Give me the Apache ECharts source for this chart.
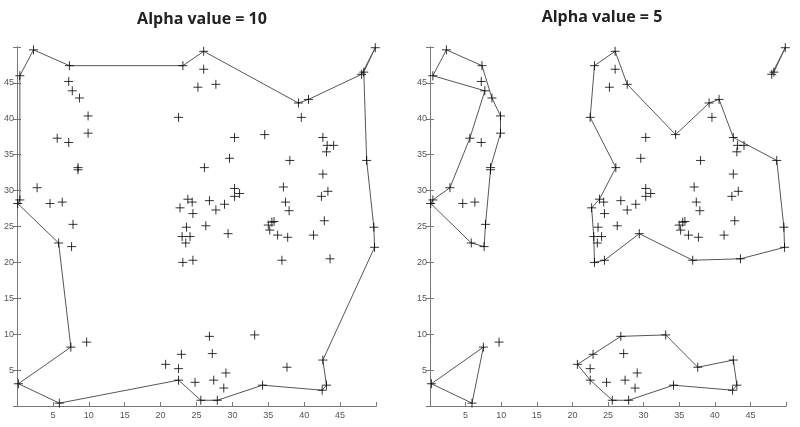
<!DOCTYPE html>
<html><head><meta charset="utf-8">
<script src="https://cdn.jsdelivr.net/npm/echarts@6/dist/echarts.min.js"></script>
<style>html,body{margin:0;padding:0;background:#fff}#c{width:800px;height:427px}</style>
</head><body><div id="c"></div>
<script>
const titles = ['Alpha value = 10', 'Alpha value = 5'];
const points = [
[2.3,49.6],[0.4,46.0],[7.3,47.4],[23.1,47.4],[7.2,45.2],[7.7,43.9],[8.7,42.9],[9.9,40.4],[9.9,38.0],
[5.6,37.3],[7.2,36.7],[8.5,33.2],[8.5,32.9],[2.8,30.4],[4.6,28.2],[6.3,28.4],[0.4,28.7],[0.1,28.2],
[7.8,25.3],[25.2,44.4],[22.5,40.2],[23.8,28.8],[24.4,28.4],[22.7,27.6],[24.5,26.8],[23.6,24.9],
[26.0,49.4],[26.0,46.9],[27.7,44.8],[39.2,42.2],[40.6,42.7],[39.6,40.2],[48.0,46.2],[48.3,46.5],[49.9,49.9],
[30.3,37.4],[34.5,37.8],[42.6,37.4],[43.2,36.3],[44.1,36.3],[43.1,35.4],[29.6,34.5],[38.0,34.2],[48.7,34.2],
[26.1,33.2],[42.6,32.3],[30.3,30.3],[30.3,29.2],[31.0,29.6],[37.1,30.5],[42.4,29.2],[43.3,29.9],
[26.8,28.6],[27.7,27.3],[28.9,28.1],[37.4,28.4],[37.9,27.2],[26.3,25.1],[35.0,25.2],[35.5,25.6],
[35.2,24.5],[35.8,25.7],[29.4,24.0],[36.3,23.8],[37.7,23.5],[41.3,23.8],[42.8,25.8],[49.7,24.9],
[5.8,22.7],[7.6,22.2],[23.0,23.6],[24.1,23.6],[23.5,22.7],[23.1,20.0],[24.5,20.3],[36.9,20.3],[43.6,20.5],[49.8,22.1],
[7.5,8.2],[9.7,8.9],[0.2,3.1],[5.9,0.4],[22.5,3.6],[22.9,7.2],[20.7,5.8],[22.5,5.2],[24.8,3.3],[25.6,0.8],
[26.8,9.7],[33.1,9.9],[27.2,7.3],[29.1,4.6],[27.4,3.6],[28.8,2.5],[37.6,5.4],[34.2,2.9],[42.6,6.4],[43.1,2.9],[42.5,2.2],[27.9,0.8]
];
const hull10 = [[2.3,49.6],[7.3,47.4],[23.1,47.4],[26.0,49.4],[39.2,42.2],[40.6,42.7],[48.0,46.2],[49.9,49.9],[48.3,46.5],[48.7,34.2],[49.7,24.9],[49.8,22.1],[42.6,6.4],[43.1,2.9],[42.5,2.2],[34.2,2.9],[27.9,0.8],[25.6,0.8],[22.5,3.6],[5.9,0.4],[0.2,3.1],[7.5,8.2],[5.8,22.7],[0.1,28.2],[0.4,28.7],[0.4,46.0],[2.3,49.6]];
const hull5a = [[2.3,49.6],[7.3,47.4],[8.7,42.9],[9.9,40.4],[9.9,38.0],[8.5,33.2],[8.5,32.9],[7.8,25.3],[7.6,22.2],[5.8,22.7],[0.1,28.2],[0.4,28.7],[2.8,30.4],[5.6,37.3],[7.7,43.9],[0.4,46.0],[2.3,49.6]];
const hull5b = [[0.2,3.1],[7.5,8.2],[5.9,0.4],[0.2,3.1]];
const hull5c = [[23.1,47.4],[22.5,40.2],[26.1,33.2],[23.8,28.8],[22.7,27.6],[23.0,23.6],[23.1,20.0],[24.5,20.3],[29.4,24.0],[36.9,20.3],[43.6,20.5],[49.8,22.1],[49.7,24.9],[48.7,34.2],[42.6,37.4],[40.6,42.7],[39.2,42.2],[34.5,37.8],[27.7,44.8],[26.0,49.4],[23.1,47.4]];
const hull5d = [[48.0,46.2],[49.9,49.9],[48.3,46.5]];
const hull5e = [[20.7,5.8],[22.9,7.2],[26.8,9.7],[33.1,9.9],[37.6,5.4],[42.6,6.4],[43.1,2.9],[42.5,2.2],[34.2,2.9],[27.9,0.8],[25.6,0.8],[22.5,3.6],[20.7,5.8]];

const grids = [{left:17,top:47,width:359,height:359},{left:430,top:47,width:356,height:359}];
const lbl = v => (v===0||v===50)?'':String(v);
const xAxis=[], yAxis=[];
const tick={show:true,length:4,lineStyle:{color:'#777'}};
grids.forEach((g,i)=>{
  const base={min:0,max:50,interval:5,splitLine:{show:false},axisLine:{show:true,lineStyle:{color:'#777'}}};
  xAxis.push(Object.assign({},base,{gridIndex:i,position:'bottom',axisTick:{show:false},axisLabel:{formatter:lbl,color:'#555',fontSize:9,margin:5}}));
  xAxis.push(Object.assign({},base,{gridIndex:i,position:'top',axisTick:tick,axisLabel:{show:false}}));
  yAxis.push(Object.assign({},base,{gridIndex:i,position:'left',axisTick:tick,axisLabel:{formatter:lbl,color:'#555',fontSize:9,margin:3}}));
  yAxis.push(Object.assign({},base,{gridIndex:i,position:'right',axisTick:tick,axisLabel:{show:false}}));
});
const plus='path://M0,5L10,5M5,0L5,10';
const series=[];
const lineS=(d,i)=>({type:'line',xAxisIndex:2*i,yAxisIndex:2*i,data:d,symbol:'none',silent:true,lineStyle:{color:'#555',width:1},z:1});
series.push(lineS(hull10,0));
[hull5a,hull5b,hull5c,hull5d,hull5e].forEach(h=>series.push(lineS(h,1)));
[0,1].forEach(i=>series.push({type:'scatter',xAxisIndex:2*i,yAxisIndex:2*i,data:points,symbol:plus,symbolSize:9,
  itemStyle:{color:'rgba(0,0,0,0)',borderColor:'#000',borderWidth:1},z:2}));
const chart=echarts.init(document.getElementById('c'));
chart.setOption({animation:false,
  title:[{text:titles[0],left:197,top:6,textAlign:'center',textStyle:{fontSize:16,fontWeight:'bold',color:'#222',fontFamily:'Open Sans'}},
         {text:titles[1],left:597,top:4,textAlign:'center',textStyle:{fontSize:16,fontWeight:'bold',color:'#222',fontFamily:'Open Sans'}}],
  grid:grids,xAxis,yAxis,series});
</script></body></html>
